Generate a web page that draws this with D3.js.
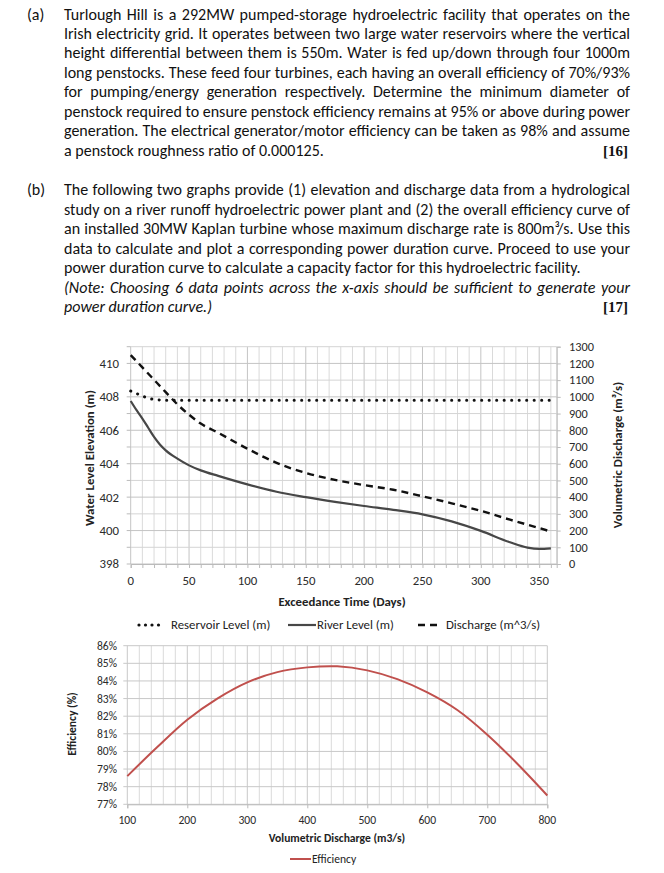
<!DOCTYPE html>
<html><head><meta charset="utf-8">
<script src="https://cdn.jsdelivr.net/npm/d3@7/dist/d3.min.js"></script>
<style>html,body{margin:0;padding:0;background:#fff}</style>
</head><body>
<svg id="c" width="664" height="873" xmlns="http://www.w3.org/2000/svg"></svg>
<script>
// ---------------- text ----------------
const paraA = [
  "Turlough Hill is a 292MW pumped-storage hydroelectric facility that operates on the",
  "Irish electricity grid. It operates between two large water reservoirs where the vertical",
  "height differential between them is 550m. Water is fed up/down through four 1000m",
  "long penstocks. These feed four turbines, each having an overall efficiency of 70%/93%",
  "for pumping/energy generation respectively. Determine the minimum diameter of",
  "penstock required to ensure penstock efficiency remains at 95% or above during power",
  "generation. The electrical generator/motor efficiency can be taken as 98% and assume",
  "a penstock roughness ratio of 0.000125."
];
const paraAJustify = [1,1,1,1,1,1,1,0];
const paraB = [
  "The following two graphs provide (1) elevation and discharge data from a hydrological",
  "study on a river runoff hydroelectric power plant and (2) the overall efficiency curve of",
  "an installed 30MW Kaplan turbine whose maximum discharge rate is 800m\u00B3/s. Use this",
  "data to calculate and plot a corresponding power duration curve. Proceed to use your",
  "power duration curve to calculate a capacity factor for this hydroelectric facility.",
  "(Note: Choosing 6 data points across the x-axis should be sufficient to generate your",
  "power duration curve.)"
];
const paraBJustify = [1,1,1,1,0,1,0];
const paraBItalic  = [0,0,0,0,0,1,1];

// ---------------- chart 1 data ----------------
const xTicks1 = [0,50,100,150,200,250,300,350];
const leftTicks1 = [398,400,402,404,406,408,410];
const rightTicks1 = [0,100,200,300,400,500,600,700,800,900,1000,1100,1200,1300];

const reservoirDays  = [0, 5, 10, 15, 20, 30, 360];
const reservoirLevel = [408.35, 408.2, 408.05, 407.92, 407.85, 407.8, 407.8];

const riverDays  = [0,5,10,15,20,25,30,40,50,60,75,100,125,150,175,200,225,250,275,300,325,340,350,360];
const riverLevel = [407.75,407.2,406.7,406.15,405.6,405.15,404.8,404.3,403.9,403.6,403.27,402.76,402.32,402.0,401.72,401.47,401.24,400.97,400.55,399.98,399.3,398.98,398.9,398.94];

const dischargeDays = [0,10,20,30,40,50,60,75,100,125,150,175,200,225,250,275,300,325,350,360];
const discharge     = [1250,1176,1102,1028,955,893,840,785,690,605,545,503,472,444,405,363,318,265,215,194];

// ---------------- chart 2 data ----------------
const xTicks2 = [100,200,300,400,500,600,700,800];
const yTicks2 = [77,78,79,80,81,82,83,84,85,86];
const effFlow = [100,150,200,250,300,350,400,450,500,550,600,650,700,750,800];
const effPct  = [78.6,80.25,81.8,83.0,83.92,84.5,84.77,84.83,84.6,84.1,83.35,82.35,80.95,79.3,77.5];

// ---------------- drawing ----------------
const FONT = "Carlito, Calibri, Lato, 'Noto Sans', sans-serif";
const svg = d3.select("#c");
const txtCol = "#111";

const X0 = 64, X1 = 630;
const probe = svg.append("text").attr("font-family", FONT).attr("font-size", 16).text(paraA[7]);
const probeW = probe.node().getComputedTextLength();
probe.remove();
const FS = Math.max(13, Math.min(17, 16 * 260 / probeW));

function drawPara(lines, justify, italic, y0, step) {
  lines.forEach((t, i) => {
    const el = svg.append("text")
      .attr("x", X0).attr("y", y0 + i * step)
      .attr("font-family", FONT).attr("font-size", FS)
      .attr("fill", txtCol)
      .attr("font-style", italic && italic[i] ? "italic" : "normal")
      .text(t);
    if (justify[i]) {
      const w = el.node().getComputedTextLength();
      const n = (t.match(/ /g) || []).length;
      if (n > 0) el.attr("word-spacing", ((X1 - X0) - w) / n);
    }
  });
}
svg.append("text").attr("x", 27).attr("y", 19.5).attr("font-family", FONT).attr("font-size", FS).attr("fill", txtCol).text("(a)");
drawPara(paraA, paraAJustify, null, 19.5, 19.45);
svg.append("text").attr("x", 628).attr("y", 155.5).attr("text-anchor", "end")
  .attr("font-family", "'Liberation Serif', serif").attr("font-weight", "bold").attr("font-size", 15).attr("fill", txtCol).text("[16]");

svg.append("text").attr("x", 27).attr("y", 195).attr("font-family", FONT).attr("font-size", FS).attr("fill", txtCol).text("(b)");
drawPara(paraB, paraBJustify, paraBItalic, 195, 19.5);
svg.append("text").attr("x", 628).attr("y", 312).attr("text-anchor", "end")
  .attr("font-family", "'Liberation Serif', serif").attr("font-weight", "bold").attr("font-size", 15).attr("fill", txtCol).text("[17]");

// ---------- chart 1 ----------
const c1 = { l: 130.7, r: 556.7, t: 346.7, b: 564 };
const x1 = d3.scaleLinear().domain([0, 365]).range([c1.l, c1.r]);
const yL = d3.scaleLinear().domain([398, 411]).range([c1.b, c1.t]);
const yR = d3.scaleLinear().domain([0, 1300]).range([c1.b, c1.t]);
const g1 = svg.append("g");
const labCol = "#2a2a2a";
const F1 = 12.8, F1T = 12.8;

d3.range(0, 361, 10).concat([365]).forEach(d => {
  g1.append("line").attr("x1", x1(d)).attr("x2", x1(d)).attr("y1", c1.t).attr("y2", c1.b)
    .attr("stroke", d % 50 === 0 ? "#c4c4c4" : "#dadada").attr("stroke-width", 1);
});
d3.range(398, 412, 1).forEach(v => {
  g1.append("line").attr("x1", c1.l).attr("x2", c1.r).attr("y1", yL(v)).attr("y2", yL(v))
    .attr("stroke", v % 2 === 0 ? "#c4c4c4" : "#d4d4d4").attr("stroke-width", 1);
  g1.append("line").attr("x1", c1.l - 4).attr("x2", c1.l).attr("y1", yL(v)).attr("y2", yL(v)).attr("stroke", "#bbb");
});
const axB = g1.append("g").attr("transform", `translate(0,${c1.b})`)
  .call(d3.axisBottom(x1).tickValues(d3.range(0, 361, 10)).tickSize(4).tickFormat(""));
axB.select(".domain").attr("stroke", "#bbb");
axB.selectAll(".tick line").attr("stroke", "#bbb");
const axR = g1.append("g").attr("transform", `translate(${c1.r},0)`)
  .call(d3.axisRight(yR).tickValues(rightTicks1).tickSize(4).tickFormat(""));
axR.select(".domain").attr("stroke", "#bbb");
axR.selectAll(".tick line").attr("stroke", "#bbb");

xTicks1.forEach(d => g1.append("text").attr("x", x1(d)).attr("y", 585).attr("text-anchor", "middle")
  .attr("font-family", FONT).attr("font-size", F1).attr("fill", labCol).text(d));
leftTicks1.forEach(v => g1.append("text").attr("x", 119).attr("y", yL(v)).attr("dy", "0.35em").attr("text-anchor", "end")
  .attr("font-family", FONT).attr("font-size", F1).attr("fill", labCol).text(v));
rightTicks1.forEach(v => g1.append("text").attr("x", 569).attr("y", yR(v)).attr("dy", "0.35em")
  .attr("font-family", FONT).attr("font-size", 12.3).attr("fill", labCol).text(v));

g1.append("text").attr("x", 342).attr("y", 606).attr("text-anchor", "middle").attr("font-family", FONT)
  .attr("font-size", F1T).attr("font-weight", "bold").attr("fill", "#222").text("Exceedance Time (Days)");
g1.append("text").attr("transform", "translate(94,458) rotate(-90)").attr("text-anchor", "middle").attr("font-family", FONT)
  .attr("font-size", F1T).attr("font-weight", "bold").attr("fill", "#222").text("Water Level Elevation (m)");
g1.append("text").attr("transform", "translate(622,455) rotate(-90)").attr("text-anchor", "middle").attr("font-family", FONT)
  .attr("font-size", F1T).attr("font-weight", "bold").attr("fill", "#222").text("Volumetric Discharge (m\u00B3/s)");

const lnL = d3.line().x(d => x1(d[0])).y(d => yL(d[1])).curve(d3.curveMonotoneX);
const lnR = d3.line().x(d => x1(d[0])).y(d => yR(d[1])).curve(d3.curveMonotoneX);
g1.append("path").attr("d", lnL(riverDays.map((d, i) => [d, riverLevel[i]])))
  .attr("fill", "none").attr("stroke", "#474747").attr("stroke-width", 2.2);
g1.append("path").attr("d", lnR(dischargeDays.map((d, i) => [d, discharge[i]])))
  .attr("fill", "none").attr("stroke", "#111").attr("stroke-width", 2.4).attr("stroke-dasharray", "7,5");
g1.append("path").attr("d", lnL(reservoirDays.map((d, i) => [d, reservoirLevel[i]])))
  .attr("fill", "none").attr("stroke", "#111").attr("stroke-width", 3).attr("stroke-dasharray", "0.1,7.4").attr("stroke-linecap", "round");

const lgY = 625;
[139, 145.5, 152, 158.5].forEach(x => g1.append("circle").attr("cx", x).attr("cy", lgY).attr("r", 1.6).attr("fill", "#111"));
g1.append("text").attr("x", 171).attr("y", lgY).attr("dy", "0.35em").attr("font-family", FONT).attr("font-size", F1).attr("fill", "#222").text("Reservoir Level (m)");
g1.append("line").attr("x1", 288).attr("x2", 316).attr("y1", lgY).attr("y2", lgY).attr("stroke", "#474747").attr("stroke-width", 2.2);
g1.append("text").attr("x", 317).attr("y", lgY).attr("dy", "0.35em").attr("font-family", FONT).attr("font-size", F1).attr("fill", "#222").text("River Level (m)");
g1.append("line").attr("x1", 418).attr("x2", 438).attr("y1", lgY).attr("y2", lgY).attr("stroke", "#111").attr("stroke-width", 2.4).attr("stroke-dasharray", "7,5");
g1.append("text").attr("x", 446).attr("y", lgY).attr("dy", "0.35em").attr("font-family", FONT).attr("font-size", F1).attr("fill", "#222").text("Discharge (m^3/s)");

// ---------- chart 2 ----------
const c2 = { l: 127.3, r: 547.3, t: 645.7, b: 804.3 };
const x2 = d3.scaleLinear().domain([100, 800]).range([c2.l, c2.r]);
const y2 = d3.scaleLinear().domain([77, 86]).range([c2.b, c2.t]);
const g2 = svg.append("g");
const F2 = 11.6;
d3.range(100, 801, 20).forEach(d => {
  g2.append("line").attr("x1", x2(d)).attr("x2", x2(d)).attr("y1", c2.t).attr("y2", c2.b)
    .attr("stroke", d % 100 === 0 ? "#c8c8c8" : "#dadada");
});
yTicks2.forEach(v => {
  g2.append("line").attr("x1", c2.l - 4).attr("x2", c2.r).attr("y1", y2(v)).attr("y2", y2(v)).attr("stroke", "#c8c8c8");
});
const axB2 = g2.append("g").attr("transform", `translate(0,${c2.b})`)
  .call(d3.axisBottom(x2).tickValues(xTicks2).tickSize(4).tickFormat(""));
axB2.select(".domain").attr("stroke", "#bbb");
axB2.selectAll(".tick line").attr("stroke", "#bbb");

xTicks2.forEach(d => g2.append("text").attr("x", x2(d)).attr("y", 824).attr("text-anchor", "middle")
  .attr("font-family", FONT).attr("font-size", F2).attr("fill", labCol).text(d));
yTicks2.forEach(v => g2.append("text").attr("x", 117).attr("y", y2(v)).attr("dy", "0.35em").attr("text-anchor", "end")
  .attr("font-family", FONT).attr("font-size", F2).attr("fill", labCol).text(v + "%"));
g2.append("text").attr("x", 337).attr("y", 842).attr("text-anchor", "middle").attr("font-family", FONT)
  .attr("font-size", F2).attr("font-weight", "bold").attr("fill", "#222").text("Volumetric Discharge (m3/s)");
g2.append("text").attr("transform", "translate(76,724) rotate(-90)").attr("text-anchor", "middle").attr("font-family", FONT)
  .attr("font-size", F2).attr("font-weight", "bold").attr("fill", "#222").text("Efficiency (%)");

const ln2 = d3.line().x(d => x2(d[0])).y(d => y2(d[1])).curve(d3.curveCatmullRom.alpha(0.5));
g2.append("path").attr("d", ln2(effFlow.map((d, i) => [d, effPct[i]])))
  .attr("fill", "none").attr("stroke", "#c0504d").attr("stroke-width", 2);

g2.append("line").attr("x1", 290).attr("x2", 311).attr("y1", 859).attr("y2", 859).attr("stroke", "#c0504d").attr("stroke-width", 2);
g2.append("text").attr("x", 312).attr("y", 859).attr("dy", "0.35em").attr("font-family", FONT).attr("font-size", F2).attr("fill", "#222").text("Efficiency");
</script>
</body></html>
